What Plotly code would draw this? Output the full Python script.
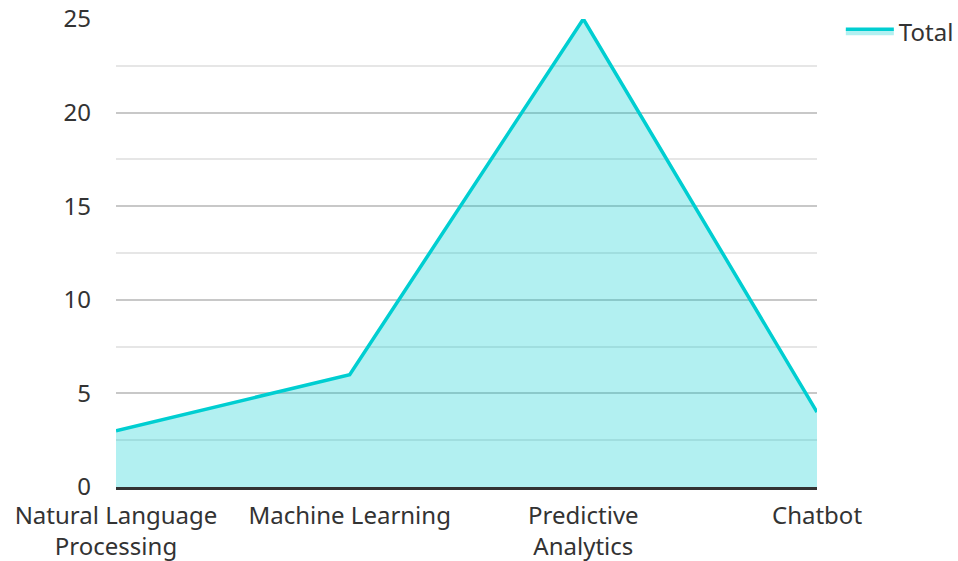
import plotly.graph_objects as go

categories = ["Natural Language<br>Processing", "Machine Learning", "Predictive<br>Analytics", "Chatbot"]
totals = [3, 6, 25, 4]
series_name = "Total"

fig = go.Figure()
fig.add_trace(go.Scatter(
    x=list(range(len(categories))),
    y=totals,
    name=series_name,
    mode="lines",
    fill="tozeroy",
    line=dict(color="#00CED1", width=3.5),
    fillcolor="rgba(0,206,209,0.3)",
))

fig.update_layout(
    width=958, height=561,
    margin=dict(l=116, r=141, t=19, b=74, autoexpand=False),
    paper_bgcolor="white",
    plot_bgcolor="white",
    font=dict(family="Noto Sans", size=24, color="#333333"),
    showlegend=True,
    legend=dict(x=1.034, y=1.021, xanchor="left", yanchor="top",
                itemwidth=48,
                font=dict(size=24, color="#333333"), bgcolor="rgba(0,0,0,0)"),
    xaxis=dict(
        tickmode="array",
        tickvals=list(range(len(categories))),
        ticktext=categories,
        range=[0, len(categories) - 1],
        showgrid=False,
        showline=True, linecolor="#333333", linewidth=3,
        zeroline=False,
        ticks="",
        ticklabelstandoff=5,
        automargin=False,
    ),
    yaxis=dict(
        range=[0, 25],
        dtick=5,
        showgrid=True, gridcolor="#c8c8c8", gridwidth=2,
        minor=dict(dtick=2.5, showgrid=True, gridcolor="#e6e6e6", gridwidth=2),
        zeroline=False,
        showline=False,
        ticks="",
        ticklabelstandoff=24,
        automargin=False,
    ),
)

fig.write_html("out.html")
